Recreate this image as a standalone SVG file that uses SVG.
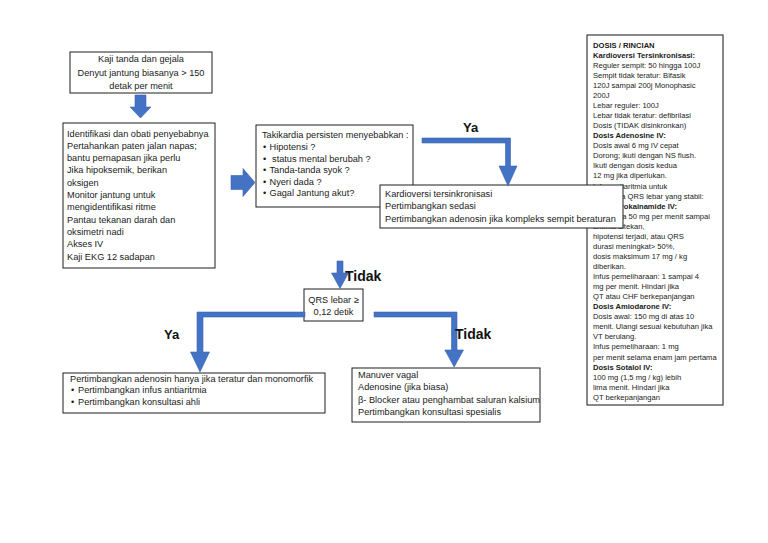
<svg xmlns="http://www.w3.org/2000/svg" width="768" height="543" viewBox="0 0 768 543">
<style>
.box{fill:#fff;stroke:#1e1e1e;stroke-width:1}
.rbox{fill:#fff;stroke:#3a3a3a;stroke-width:1.2}
.t{font-family:"Liberation Sans",Arial,sans-serif;font-size:9.2px;fill:#1a1a1a}
.c{text-anchor:middle}
.r{font-family:"Liberation Sans",Arial,sans-serif;font-size:7.6px;fill:#1a1a1a}
.b{font-weight:bold}
.lbl{font-family:"Liberation Sans",Arial,sans-serif;font-weight:bold;font-size:14px;fill:#111}
.arr{fill:#4472C4;stroke:#3b65b0;stroke-width:0.6}
</style>
<rect width="768" height="543" fill="#fff"/>

<g id="node-gejala">
<rect class="box" x="70" y="52" width="142" height="41"/>
<text class="t c" x="141" y="61.5">Kaji tanda dan gejala</text>
<text class="t c" x="141" y="75.5">Denyut jantung biasanya &gt; 150</text>
<text class="t c" x="141" y="89">detak per menit</text>
</g>

<g id="node-identifikasi">
<rect class="box" x="63" y="123" width="152" height="145"/>
<text class="t" x="67" y="136.5">
<tspan x="67">Identifikasi dan obati penyebabnya</tspan>
<tspan x="67" dy="12.33">Pertahankan paten jalan napas;</tspan>
<tspan x="67" dy="12.33">bantu pernapasan jika perlu</tspan>
<tspan x="67" dy="12.33">Jika hipoksemik, berikan</tspan>
<tspan x="67" dy="12.33">oksigen</tspan>
<tspan x="67" dy="12.33">Monitor jantung untuk</tspan>
<tspan x="67" dy="12.33">mengidentifikasi ritme</tspan>
<tspan x="67" dy="12.33">Pantau tekanan darah dan</tspan>
<tspan x="67" dy="12.33">oksimetri nadi</tspan>
<tspan x="67" dy="12.33">Akses IV</tspan>
<tspan x="67" dy="12.33">Kaji EKG 12 sadapan</tspan>
</text>
</g>

<g id="node-dosis">
<rect class="rbox" x="587" y="35" width="136" height="370"/>
<text class="r" x="593" y="47.7">
<tspan x="593" class="b">DOSIS / RINCIAN</tspan>
<tspan x="593" dy="10.06" class="b">Kardioversi Tersinkronisasi:</tspan>
<tspan x="593" dy="10.06">Reguler sempit: 50 hingga 100J</tspan>
<tspan x="593" dy="10.06">Sempit tidak teratur: Bifasik</tspan>
<tspan x="593" dy="10.06">120J sampai 200j Monophasic</tspan>
<tspan x="593" dy="10.06">200J</tspan>
<tspan x="593" dy="10.06">Lebar reguler: 100J</tspan>
<tspan x="593" dy="10.06">Lebar tidak teratur: defibrilasi</tspan>
<tspan x="593" dy="10.06">Dosis (TIDAK disinkronkan)</tspan>
<tspan x="593" dy="10.06" class="b">Dosis Adenosine IV:</tspan>
<tspan x="593" dy="10.06">Dosis awal 6 mg IV cepat</tspan>
<tspan x="593" dy="10.06">Dorong; ikuti dengan NS flush.</tspan>
<tspan x="593" dy="10.06">Ikuti dengan dosis kedua</tspan>
<tspan x="593" dy="10.06">12 mg jika diperlukan.</tspan>
<tspan x="593" dy="10.06">Infus antiaritmia untuk</tspan>
<tspan x="593" dy="10.06">takikardia QRS lebar yang stabil:</tspan>
<tspan x="593" dy="10.06" class="b">Dosis Prokainamide IV:</tspan>
<tspan x="593" dy="10.06">20 hingga 50 mg per menit sampai</tspan>
<tspan x="593" dy="10.06">aritmia ditekan,</tspan>
<tspan x="593" dy="10.06">hipotensi terjadi, atau QRS</tspan>
<tspan x="593" dy="10.06">durasi meningkat&gt; 50%,</tspan>
<tspan x="593" dy="10.06">dosis maksimum 17 mg / kg</tspan>
<tspan x="593" dy="10.06">diberikan.</tspan>
<tspan x="593" dy="10.06">Infus pemeliharaan: 1 sampai 4</tspan>
<tspan x="593" dy="10.06">mg per menit. Hindari jika</tspan>
<tspan x="593" dy="10.06">QT atau CHF berkepanjangan</tspan>
<tspan x="593" dy="10.06" class="b">Dosis Amiodarone IV:</tspan>
<tspan x="593" dy="10.06">Dosis awal: 150 mg di atas 10</tspan>
<tspan x="593" dy="10.06">menit. Ulangi sesuai kebutuhan jika</tspan>
<tspan x="593" dy="10.06">VT berulang.</tspan>
<tspan x="593" dy="10.06">Infus pemeliharaan: 1 mg</tspan>
<tspan x="593" dy="10.06">per menit selama enam jam pertama</tspan>
<tspan x="593" dy="10.06" class="b">Dosis Sotalol IV:</tspan>
<tspan x="593" dy="10.06">100 mg (1,5 mg / kg) lebih</tspan>
<tspan x="593" dy="10.06">lima menit. Hindari jika</tspan>
<tspan x="593" dy="10.06">QT berkepanjangan</tspan>
</text>
</g>

<g id="node-takikardia">
<rect class="box" x="256" y="125" width="157" height="82"/>
<text class="t" x="262" y="138.2">Takikardia persisten menyebabkan :</text>
<text class="t" y="149.85"><tspan x="263">•</tspan><tspan x="269.5">Hipotensi ?</tspan></text>
<text class="t" y="161.5"><tspan x="263">•</tspan><tspan x="269.5"> status mental berubah ?</tspan></text>
<text class="t" y="173.15"><tspan x="263">•</tspan><tspan x="269.5">Tanda-tanda syok  ?</tspan></text>
<text class="t" y="184.8"><tspan x="263">•</tspan><tspan x="269.5">Nyeri dada ?</tspan></text>
<text class="t" y="196.45"><tspan x="263">•</tspan><tspan x="269.5">Gagal Jantung akut?</tspan></text>
</g>

<g id="node-kardioversi">
<rect class="box" x="380" y="185" width="243" height="43"/>
<text class="t" x="385" y="197.2">Kardioversi tersinkronisasi</text>
<text class="t" x="385" y="209.4">Pertimbangkan sedasi</text>
<text class="t" x="385" y="221.6">Pertimbangkan adenosin jika kompleks sempit beraturan</text>
</g>

<g id="node-qrs">
<rect class="box" x="304" y="289" width="59" height="32"/>
<text class="t c" x="333.5" y="303">QRS lebar ≥</text>
<text class="t c" x="333.5" y="314.5">0,12 detik</text>
</g>

<g id="node-lebar">
<rect class="box" x="63" y="373" width="262" height="40"/>
<text class="t" x="70" y="381.5">Pertimbangkan adenosin hanya jika teratur dan monomorfik</text>
<text class="t" y="393.2"><tspan x="71">•</tspan><tspan x="78">Pertimbangkan infus antiaritmia</tspan></text>
<text class="t" y="405.2"><tspan x="71">•</tspan><tspan x="78">Pertimbangkan konsultasi ahli</tspan></text>
</g>

<g id="node-sempit">
<rect class="box" x="352" y="368" width="188" height="54"/>
<text class="t" x="358" y="378.2">Manuver vagal</text>
<text class="t" x="358" y="390.4">Adenosine (jika biasa)</text>
<text class="t" x="358" y="402.6">β- Blocker atau penghambat saluran kalsium</text>
<text class="t" x="358" y="414.8">Pertimbangkan konsultasi spesialis</text>
</g>

<g id="connectors">
<polygon class="arr" points="135,95 146,95 146,107 151,107 140.5,118 130,107 135,107"/>
<polygon class="arr" points="231,175.5 243,175.5 243,168.5 255,182.5 243,196.5 243,189.5 231,189.5"/>
<path class="arr" d="M422,138 H510.5 V166 H517 L508,186 L499,166 H505.5 V143 H422 Z"/>
<polygon class="arr" points="337,261 343,261 343,273 348.5,273 340,288.5 331.5,273 337,273"/>
<path class="arr" d="M305,312 H197 V352 H190.5 L200,372 L209.5,352 H203 V317 H305 Z"/>
<path class="arr" d="M374,312 H457 V350 H463.5 L454.2,367 L444.8,350 H451.5 V317 H374 Z"/>
<text class="lbl" x="463" y="131.5" style="font-size:13px">Ya</text>
<text class="lbl" x="345" y="280.5">Tidak</text>
<text class="lbl" x="164" y="339" style="font-size:13px">Ya</text>
<text class="lbl" x="455" y="339">Tidak</text>
</g>
</svg>
